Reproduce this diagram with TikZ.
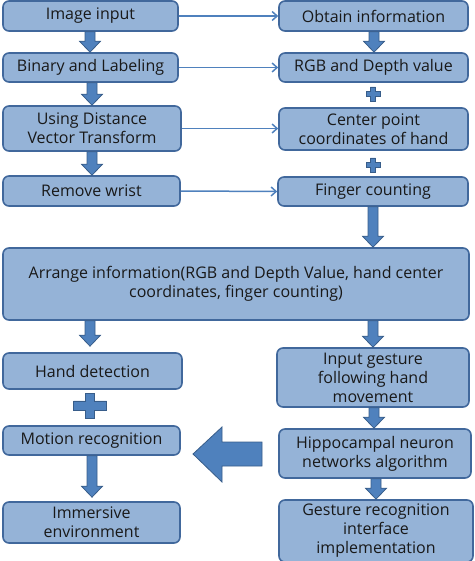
\documentclass[tikz,border=0pt]{standalone}
\usepackage{fontspec}
\setmainfont{Open Sans}
\usetikzlibrary{calc,arrows.meta}
\definecolor{boxfill}{HTML}{95B3D7}
\definecolor{boxline}{HTML}{41689C}
\definecolor{arrfill}{HTML}{4F81BD}
\definecolor{arrline}{HTML}{385D8A}
\tikzset{
  box/.style={draw=boxline, fill=boxfill, line width=1.6pt, rounded corners=6pt,
    align=center, inner sep=0pt, text=black!90,
    font=\fontsize{16}{19}\selectfont},
  fat/.style={fill=arrfill, draw=arrline, line width=0.8pt, line join=miter},
  thin/.style={draw=arrfill, line width=1.5pt, -{Straight Barb[length=5pt,width=9pt]}},
}
\newcommand\mkbox[6]{% name, x1, y1, x2, y2, text
  \node[box, minimum width={#4-#2}, minimum height={#5-#3}] (#1) at ({(#2+#4)/2},{(#3+#5)/2}) {#6};}
\newcommand\fatdn[3]{% from, to, x
  \draw[fat] let \p1=(#1), \p2=(#2) in
   ({#3-5},\y1) -- ({#3+5},\y1) -- ({#3+5},\y2+11) -- ({#3+10.5},\y2+11) -- (#3,\y2)
   -- ({#3-10.5},\y2+11) -- ({#3-5},\y2+11) -- cycle;}
\newcommand\plussign[5]{% x, y, halfwidth, halfheight, halfthickness
  \draw[fat] ({#1-#5},{#2-#4}) -- ({#1+#5},{#2-#4}) -- ({#1+#5},{#2-#5}) -- ({#1+#3},{#2-#5})
   -- ({#1+#3},{#2+#5}) -- ({#1+#5},{#2+#5}) -- ({#1+#5},{#2+#4}) -- ({#1-#5},{#2+#4})
   -- ({#1-#5},{#2+#5}) -- ({#1-#3},{#2+#5}) -- ({#1-#3},{#2-#5}) -- ({#1-#5},{#2-#5}) -- cycle;}
\begin{document}
\begin{tikzpicture}[x=1pt,y=-1pt]
\useasboundingbox (0,0) rectangle (474,561);
\mkbox{imgin}{3}{1}{178}{31}{Image input}
\mkbox{obtain}{279}{1}{468}{31}{Obtain information}
\mkbox{binary}{3}{53}{178}{82}{Binary and Labeling}
\mkbox{rgb}{279}{53}{468}{82}{RGB and Depth value}
\mkbox{using}{3}{106}{181}{151}{Using Distance\\Vector Transform}
\mkbox{center}{279}{108}{468}{150}{Center point\\coordinates of hand}
\mkbox{remove}{3}{176}{180}{206}{Remove wrist}
\mkbox{finger}{278}{177}{468}{206}{Finger counting}
\mkbox{arrange}{3}{248}{469}{320}{Arrange information(RGB and Depth Value, hand center\\coordinates, finger counting)}
\mkbox{hand}{3}{353}{182}{389}{Hand detection}
\mkbox{motion}{3}{426}{180}{455}{Motion recognition}
\mkbox{immersive}{3}{502}{180}{543}{Immersive\\environment}
\mkbox{inputg}{277}{348}{469}{407}{Input gesture\\following hand\\movement}
\mkbox{hippo}{279}{429}{471}{478}{Hippocampal neuron\\networks algorithm}
\mkbox{gesture}{279}{500}{473}{562}{Gesture recognition\\interface\\implementation}
% thin connectors
\draw[thin] (imgin.east) -- (obtain.west);
\draw[thin] (binary.east) -- (rgb.west);
\draw[thin] (using.east) -- (using.east -| center.west);
\draw[thin] (remove.east) -- (finger.west);
% fat connectors
\fatdn{imgin.south}{binary.north}{90}
\fatdn{binary.south}{using.north}{92}
\fatdn{using.south}{remove.north}{92}
\fatdn{obtain.south}{rgb.north}{374}
\fatdn{finger.south}{arrange.north}{373}
\fatdn{arrange.south}{$(hand.north)+(0,-6)$}{90}
\fatdn{arrange.south}{inputg.north}{373}
\fatdn{inputg.south}{hippo.north}{374}
\fatdn{hippo.south}{gesture.north}{376}
\fatdn{motion.south}{$(immersive.north)+(0,-4)$}{92}
% plus signs
\plussign{373}{94}{7}{7}{2.6}
\plussign{373}{165}{7}{7}{2.6}
\plussign{90}{405.5}{16.5}{12.5}{4.6}
% big left arrow
\coordinate (bigtip) at (193,454);
\draw[fat] (bigtip) -- (222,427) -- (222,442) -- (262,442) -- (262,466) -- (222,466) -- (222,482) -- cycle;
\end{tikzpicture}
\end{document}
